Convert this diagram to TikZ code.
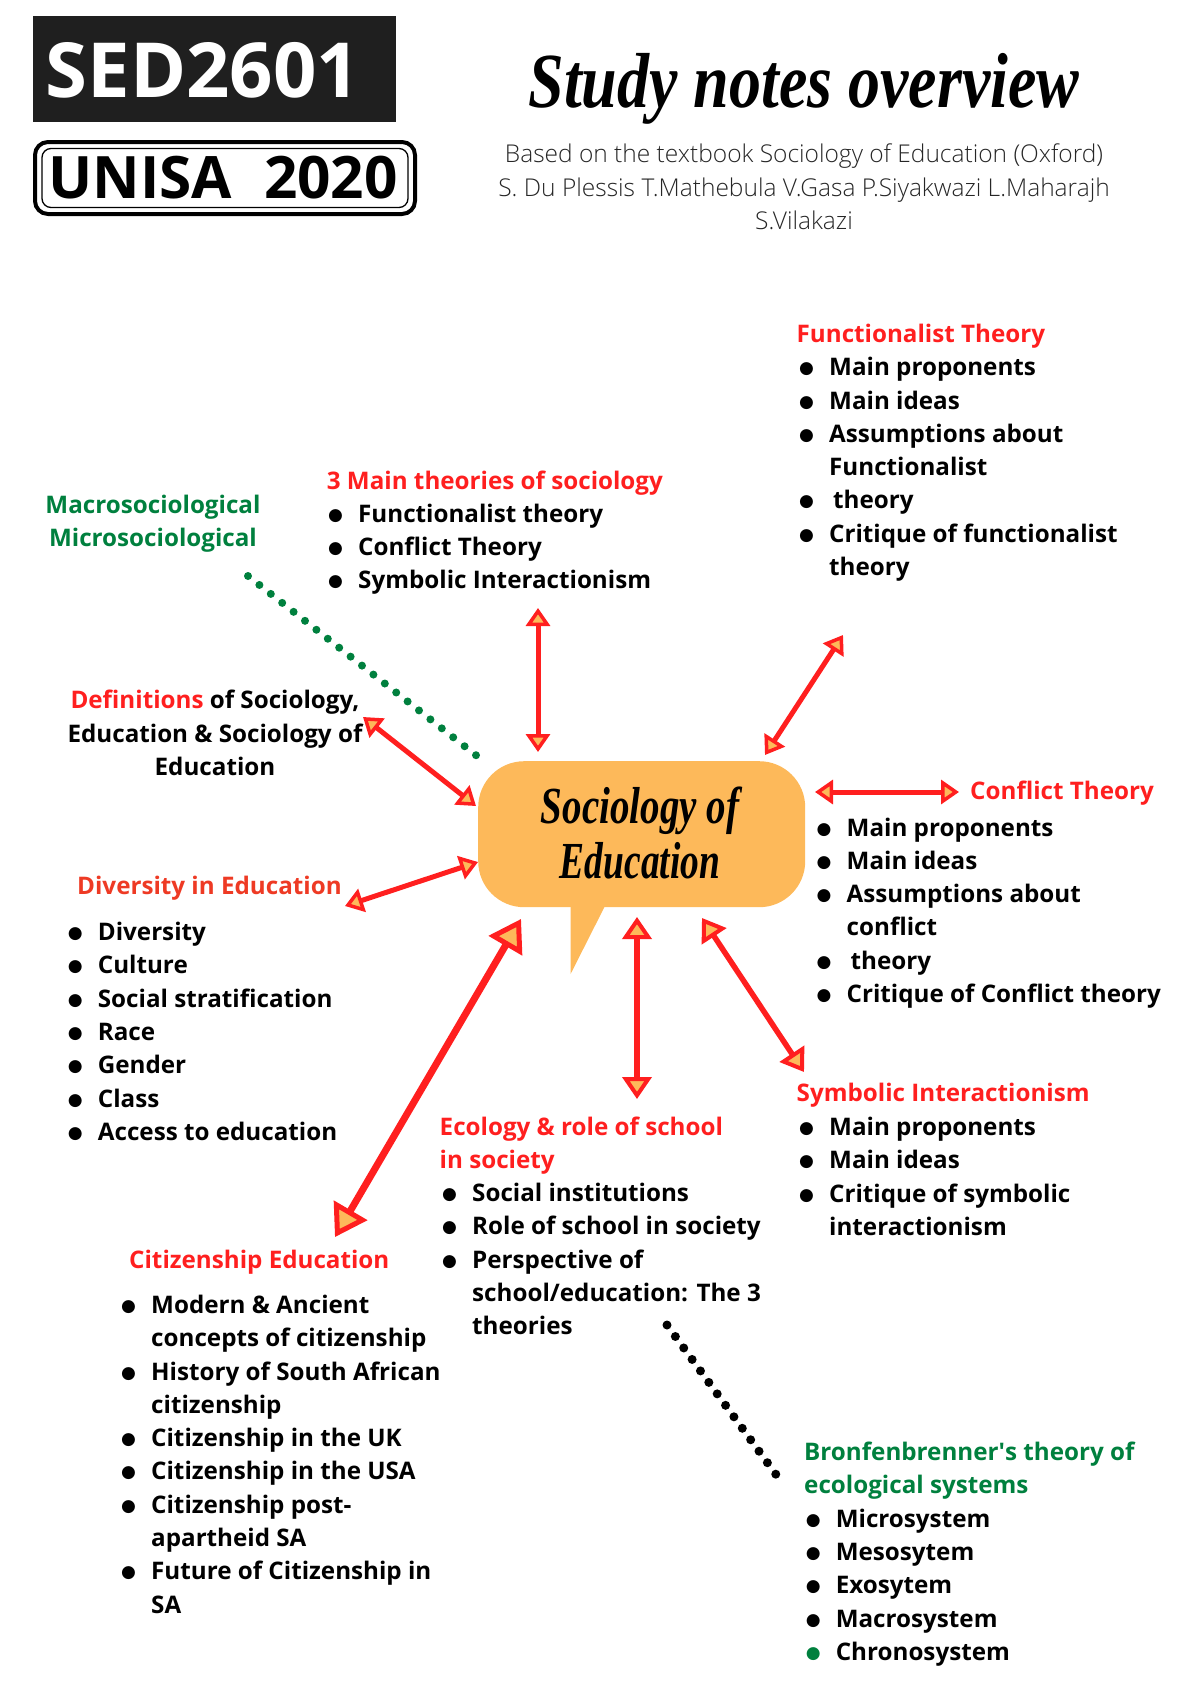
\documentclass[tikz,border=0pt]{standalone}
\usepackage{fontspec}
\setmainfont{Open Sans}
\newfontfamily\calli{Liberation Serif}[BoldItalicFont={* Bold Italic}]
\newfontfamily\thinfont{Open Sans Light}
\newfontfamily\symfont{DejaVu Sans}
\usetikzlibrary{arrows.meta}
\definecolor{hotred}{HTML}{FF1F1F}
\definecolor{warmred}{HTML}{EE3A24}
\definecolor{leaf}{HTML}{00803E}
\definecolor{bubble}{HTML}{FDB95A}
\newcommand{\bul}{\raisebox{2pt}{\symfont\mdseries\fontsize{17}{17}\selectfont ●}}
\newcommand{\itm}[1]{\makebox[30pt][l]{\bul}#1}
\newcommand{\nobul}[1]{\hspace*{30pt}#1}
\newcommand{\gitm}[1]{\makebox[30pt][l]{\textcolor{leaf}{\bul}}#1}
\tikzset{
	bodytxt/.style = {inner sep=0pt, anchor=north west, align=left,
		font=\fontsize{24.2}{33.3}\selectfont\bfseries, execute at begin node=\strut},
	headtxt/.style = {bodytxt, text=hotred},
	midtxt/.style  = {bodytxt, anchor=north, align=center},
	link/.style    = {draw=hotred, line width=#1, line cap=butt},
	link/.default  = 5pt,
	tipS/.style    = {{Triangle[fill=bubble,line width=3.5pt,length=18pt,width=24pt]}-{Triangle[fill=bubble,line width=3.5pt,length=18pt,width=24pt]}},
	tipM/.style    = {{Triangle[fill=bubble,line width=4pt,length=22pt,width=29pt]}-{Triangle[fill=bubble,line width=4pt,length=22pt,width=29pt]}},
	tipL/.style    = {{Triangle[fill=bubble,line width=5pt,length=31pt,width=38pt]}-{Triangle[fill=bubble,line width=5pt,length=31pt,width=38pt]}},
	dots/.style 2 args = {line width=#1, line cap=round, dash pattern=on 0pt off #2},
}
\begin{document}
\begin{tikzpicture}[x=1pt, y=-1pt]
	\useasboundingbox (0,0) rectangle (1200,1698);
	% Badges
	\node [fill=black!88, minimum width=363pt, minimum height=106pt, inner sep=0pt, anchor=north west] (sed) at (33,16) {};
	\node [text=white, font=\fontsize{76}{76}\selectfont\bfseries, inner sep=0pt] (sedtxt) at (203,70) {SED2601};
	\node [draw, line width=4pt, rounded corners=13pt, minimum width=380pt, minimum height=72pt, inner sep=0pt, anchor=north west] (uni) at (33,140) {};
	\node [draw, line width=1.3pt, rounded corners=9pt, minimum width=366pt, minimum height=59pt, inner sep=0pt] (uniin) at (uni.center) {};
	\node [font=\fontsize{58.5}{58.5}\selectfont\bfseries, inner sep=0pt] (unitxt) at (223,178) {UNISA\hspace{.55em}2020};
	% Title
	\node [font=\calli\fontsize{78}{78}\selectfont\bfseries\itshape, inner sep=0pt] (title) at (804,89) {\scalebox{.82}[1]{Study notes overview}};
	\node [text=black!85, font=\thinfont\fontsize{24.5}{33.5}\selectfont, align=center, inner sep=0pt, anchor=north] (sub) at (804,144)
		{Based on the textbook Sociology of Education (Oxford)\\S. Du Plessis T.Mathebula V.Gasa P.Siyakwazi L.Maharajh\\S.Vilakazi};
	% Bubble
	\fill [bubble] (570.6,900) -- (570.6,974) -- (608,900) -- cycle;
	\node [fill=bubble, rounded corners=46pt, minimum width=327pt, minimum height=146pt, inner sep=0pt, anchor=north west] (soc) at (478,761) {};
	\node [font=\calli\fontsize{52}{55}\selectfont\bfseries\itshape, align=center, inner sep=0pt] (soctxt) at (640,833) {\scalebox{.75}[1]{Sociology of}\\\scalebox{.72}[1]{Education}};
	% Blocks, top right
	\node [headtxt] (fnH) at (796.5,319) {Functionalist Theory};
	\node [bodytxt] (fnL) at (799,357.2) {\itm{Main proponents}\\\itm{Main ideas}\\\itm{Assumptions about}\\\nobul{Functionalist}\\\itm{\,theory}\\\itm{Critique of functionalist}\\\nobul{theory}};
	\node [headtxt] (thH) at (326.7,465.6) {3 Main theories of sociology};
	\node [bodytxt] (thL) at (328,503.7) {\itm{Functionalist theory}\\\itm{Conflict Theory}\\\itm{Symbolic Interactionism}};
	\node [midtxt, text=leaf] (macro) at (153,495) {Macrosociological\\Microsociological};
	\node [midtxt] (defs) at (215,690) {\textcolor{hotred}{Definitions} of Sociology,\\Education \& Sociology of\\Education};
	% Blocks, left
	\node [bodytxt, text=warmred] (divH) at (77,871.3) {Diversity in Education};
	\node [bodytxt] (divL) at (67.7,922) {\itm{Diversity}\\\itm{Culture}\\\itm{Social stratification}\\\itm{Race}\\\itm{Gender}\\\itm{Class}\\\itm{Access to education}};
	\node [headtxt] (citH) at (129,1244.8) {Citizenship Education};
	\node [bodytxt] (citL) at (121,1294.8) {\itm{Modern \& Ancient}\\\nobul{concepts of citizenship}\\\itm{History of South African}\\\nobul{citizenship}\\\itm{Citizenship in the UK}\\\itm{Citizenship in the USA}\\\itm{Citizenship post-}\\\nobul{apartheid SA}\\\itm{Future of Citizenship in}\\\nobul{SA}};
	% Blocks, right
	\node [headtxt] (conH) at (970,776) {Conflict Theory};
	\node [bodytxt] (conL) at (816.5,817.4) {\itm{Main proponents}\\\itm{Main ideas}\\\itm{Assumptions about}\\\nobul{conflict}\\\itm{\,theory}\\\itm{Critique of Conflict theory}};
	\node [headtxt] (symH) at (796.5,1077.7) {Symbolic Interactionism};
	\node [bodytxt] (symL) at (799,1116.8) {\itm{Main proponents}\\\itm{Main ideas}\\\itm{Critique of symbolic}\\\nobul{interactionism}};
	% Blocks, bottom
	\node [headtxt] (ecoH) at (439.5,1116.8) {Ecology \& role of school\\in society};
	\node [bodytxt] (ecoL) at (442,1183) {\itm{Social institutions}\\\itm{Role of school in society}\\\itm{Perspective of}\\\nobul{school/education: The 3}\\\nobul{theories}};
	\node [bodytxt, text=leaf] (broH) at (804,1441.3) {Bronfenbrenner\textquotesingle s theory of\\ecological systems};
	\node [bodytxt] (broL) at (805.6,1508.6) {\itm{Microsystem}\\\itm{Mesosytem}\\\itm{Exosytem}\\\itm{Macrosystem}\\\gitm{Chronosystem}};
	% Arrow ends
	\coordinate (thA)  at (538,608);	\coordinate (thB)  at (538,752);
	\coordinate (fnA)  at (843,635);	\coordinate (fnB)  at (765,755);
	\coordinate (defA) at (363,717);	\coordinate (defB) at (476,806);
	\coordinate (divA) at (345,906);	\coordinate (divB) at (478,862);
	\coordinate (conA) at (815,792);	\coordinate (conB) at (959,792);
	\coordinate (ecoA) at (637,917);	\coordinate (ecoB) at (637,1099);
	\coordinate (symA) at (702,918);	\coordinate (symB) at (804,1072);
	\coordinate (citA) at (335,1237);	\coordinate (citB) at (521,919);
	\coordinate (macA) at (248,576);	\coordinate (macB) at (477,756);
	\coordinate (broA) at (667,1325);	\coordinate (broB) at (776,1474.5);
	% Arrows
	\draw [link, tipS]		(thA)	-- (thB);
	\draw [link, tipS]		(fnA)	-- (fnB);
	\draw [link, tipS]		(defA)	-- (defB);
	\draw [link, tipS]		(divA)	-- (divB);
	\draw [link, tipS]		(conA)	-- (conB);
	\draw [link=5.5pt, tipM]	(ecoA)	-- (ecoB);
	\draw [link=5.5pt, tipM]	(symA)	-- (symB);
	\draw [link=7pt, tipL]	(citA)	-- (citB);
	% Dotted lines
	\draw [dots={8pt}{14.5pt}, leaf]	(macA)	-- (macB);
	\draw [dots={9pt}{14.2pt}, black]	(broA)	-- (broB);
\end{tikzpicture}
\end{document}
